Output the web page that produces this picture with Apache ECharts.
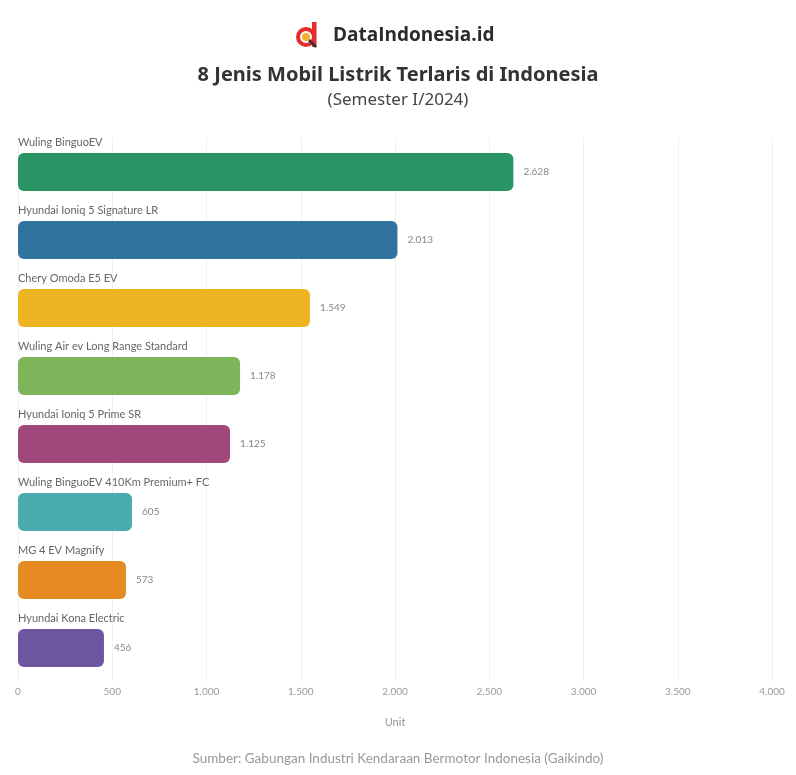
<!DOCTYPE html>
<html><head><meta charset="utf-8">
<script src="https://cdn.jsdelivr.net/npm/echarts@6/dist/echarts.min.js"></script>
<style>html,body{margin:0;padding:0;background:#fff}#c{width:796px;height:775px}</style>
</head><body><div id="c"></div>
<script>
const categories = [
  "Wuling BinguoEV",
  "Hyundai Ioniq 5 Signature LR",
  "Chery Omoda E5 EV",
  "Wuling Air ev Long Range Standard",
  "Hyundai Ioniq 5 Prime SR",
  "Wuling BinguoEV 410Km Premium+ FC",
  "MG 4 EV Magnify",
  "Hyundai Kona Electric"
];
const values = [2628, 2013, 1549, 1178, 1125, 605, 573, 456];
const colors = ["#2a9464","#31739f","#eeb422","#7db65a","#a0487c","#4aacad","#e78a22","#6d57a0"];
const xTicks = [0, 500, 1000, 1500, 2000, 2500, 3000, 3500, 4000];

function fmt(v){ return String(v).replace(/\B(?=(\d{3})+(?!\d))/g, "."); }

const chart = echarts.init(document.getElementById('c'));
const F = "'Noto Sans', sans-serif";
const L = "Lato, sans-serif";
chart.setOption({
  backgroundColor: '#fff',
  textStyle: {fontFamily: L},
  title: [
    {text: '8 Jenis Mobil Listrik Terlaris di Indonesia', left: 'center', top: 60,
     textStyle: {fontSize: 20, fontWeight: 'bold', color: '#333', fontFamily: F}},
    {text: '(Semester I/2024)', left: 'center', top: 87,
     textStyle: {fontSize: 17, fontWeight: 'normal', color: '#444', fontFamily: F}},
    {text: 'Sumber: Gabungan Industri Kendaraan Bermotor Indonesia (Gaikindo)', left: 'center', top: 747,
     textStyle: {fontSize: 13.5, fontWeight: 'normal', color: '#999', fontFamily: L}}
  ],
  graphic: [
    {type: 'circle', shape: {cx: 306, cy: 37, r: 8}, style: {fill: 'none', stroke: '#e52b2b', lineWidth: 4}},
    {type: 'rect', shape: {x: 312, y: 22, width: 4.5, height: 25}, style: {fill: '#e52b2b'}},
    {type: 'circle', shape: {cx: 306, cy: 37, r: 4}, style: {fill: '#f2b134'}},
    {type: 'line', shape: {x1: 309, y1: 40, x2: 316, y2: 47}, style: {stroke: '#333', lineWidth: 2.5}},
    {type: 'text', left: 333, top: 26, style: {text: 'DataIndonesia.id', fontSize: 19, fontWeight: 'bold', fill: '#2b2b2b', fontFamily: "'Open Sans', sans-serif"}}
  ],
  grid: {left: 18, right: 24, top: 138, bottom: 93, containLabel: false},
  xAxis: {
    type: 'value', min: 0, max: 4000, interval: 500,
    name: 'Unit', nameLocation: 'middle', nameGap: 35,
    nameTextStyle: {color: '#999', fontSize: 11},
    axisLine: {show: false}, axisTick: {show: false},
    axisLabel: {color: '#999', fontSize: 10, formatter: v => fmt(v), margin: 5},
    splitLine: {lineStyle: {color: '#f0f0f0'}}
  },
  yAxis: {
    type: 'category', data: categories, inverse: true,
    axisLine: {show: false}, axisTick: {show: false},
    axisLabel: {inside: true, margin: 0, align: 'left', verticalAlign: 'bottom',
      padding: [0, 0, 24, 0], color: '#666', fontSize: 11}
  },
  series: [{
    type: 'bar', barWidth: 38,
    data: values.map((v, i) => ({value: v, itemStyle: {color: colors[i]}})),
    itemStyle: {borderRadius: 6},
    label: {show: true, position: 'right', color: '#888', fontSize: 10, distance: 10, formatter: p => fmt(p.value)}
  }]
});
</script></body></html>
